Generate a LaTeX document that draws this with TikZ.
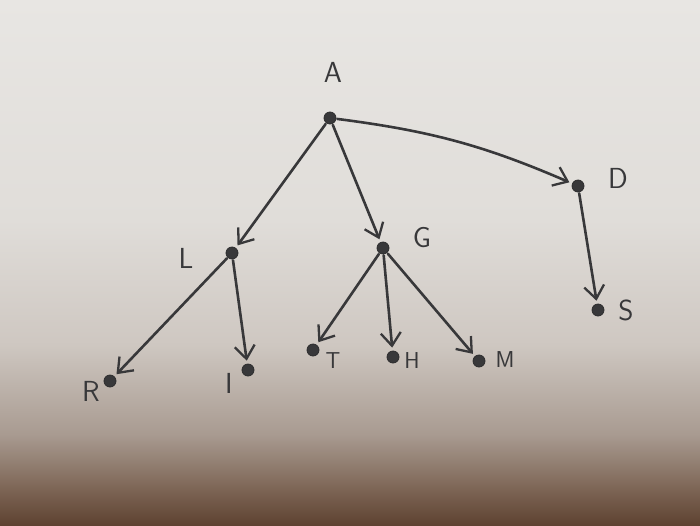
\documentclass[tikz,border=0pt]{standalone}
\usetikzlibrary{arrows.meta}
\definecolor{bandA}{HTML}{E8E6E3}
\definecolor{bandB}{HTML}{E0DDD9}
\definecolor{bandC}{HTML}{CEC7C1}
\definecolor{bandD}{HTML}{A89A90}
\definecolor{bandE}{HTML}{806959}
\definecolor{bandF}{HTML}{5E4231}
\definecolor{ink}{HTML}{38383A}
\tikzset{
  dot/.style={circle, fill=ink, draw=ink!80!black, line width=0.8pt, minimum size=12pt, inner sep=0pt},
  lbl/.style={text=ink, font=\sffamily\fontsize{29}{32}\selectfont, inner sep=0pt},
  slbl/.style={text=ink, font=\sffamily\fontsize{23}{26}\selectfont, inner sep=0pt},
  link/.style={draw=ink, line width=2.6pt, line cap=round, -{Straight Barb[length=13pt,width=20pt,line width=2.3pt]}, shorten >=3pt, shorten <=1pt}
}
\begin{document}
\begin{tikzpicture}[x=1pt,y=-1pt]
\useasboundingbox (0,0) rectangle (700,525);
% paper background in bands
\shade[top color=bandA, bottom color=bandB] (0,0) rectangle (700,220.5);
\shade[top color=bandB, bottom color=bandC] (0,220) rectangle (700,345.5);
\shade[top color=bandC, bottom color=bandD] (0,345) rectangle (700,435.5);
\shade[top color=bandD, bottom color=bandE] (0,435) rectangle (700,485.5);
\shade[top color=bandE, bottom color=bandF] (0,485) rectangle (700,525);
% nodes
\node[dot] (A) at (330,118) {};
\node[dot] (D) at (578,186) {};
\node[dot] (L) at (232,253) {};
\node[dot] (G) at (383,248) {};
\node[dot] (S) at (598,310) {};
\node[dot] (R) at (110,381) {};
\node[dot] (I) at (248,370) {};
\node[dot] (T) at (313,350) {};
\node[dot] (H) at (393,357) {};
\node[dot] (M) at (479,361) {};
% labels
\node[lbl] (lA) at (333,72) {A};
\node[lbl] (lD) at (618,178) {D};
\node[lbl] (lL) at (186,258) {L};
\node[lbl] (lG) at (422,238) {G};
\node[lbl] (lS) at (626,310) {S};
\node[lbl] (lR) at (91,391) {R};
\node[lbl] (lI) at (229,383) {I};
\node[slbl] (lT) at (333,361) {T};
\node[slbl] (lH) at (412,361) {H};
\node[slbl] (lM) at (505,360) {M};
% connectors
\draw[link] (A) to[bend left=8] (D);
\draw[link] (A) -- (L);
\draw[link] (A) -- (G);
\draw[link] (D) -- (S);
\draw[link] (L) -- (R);
\draw[link] (L) -- (I);
\draw[link] (G) -- (T);
\draw[link] (G) -- (H);
\draw[link] (G) -- (M);
\end{tikzpicture}
\end{document}
